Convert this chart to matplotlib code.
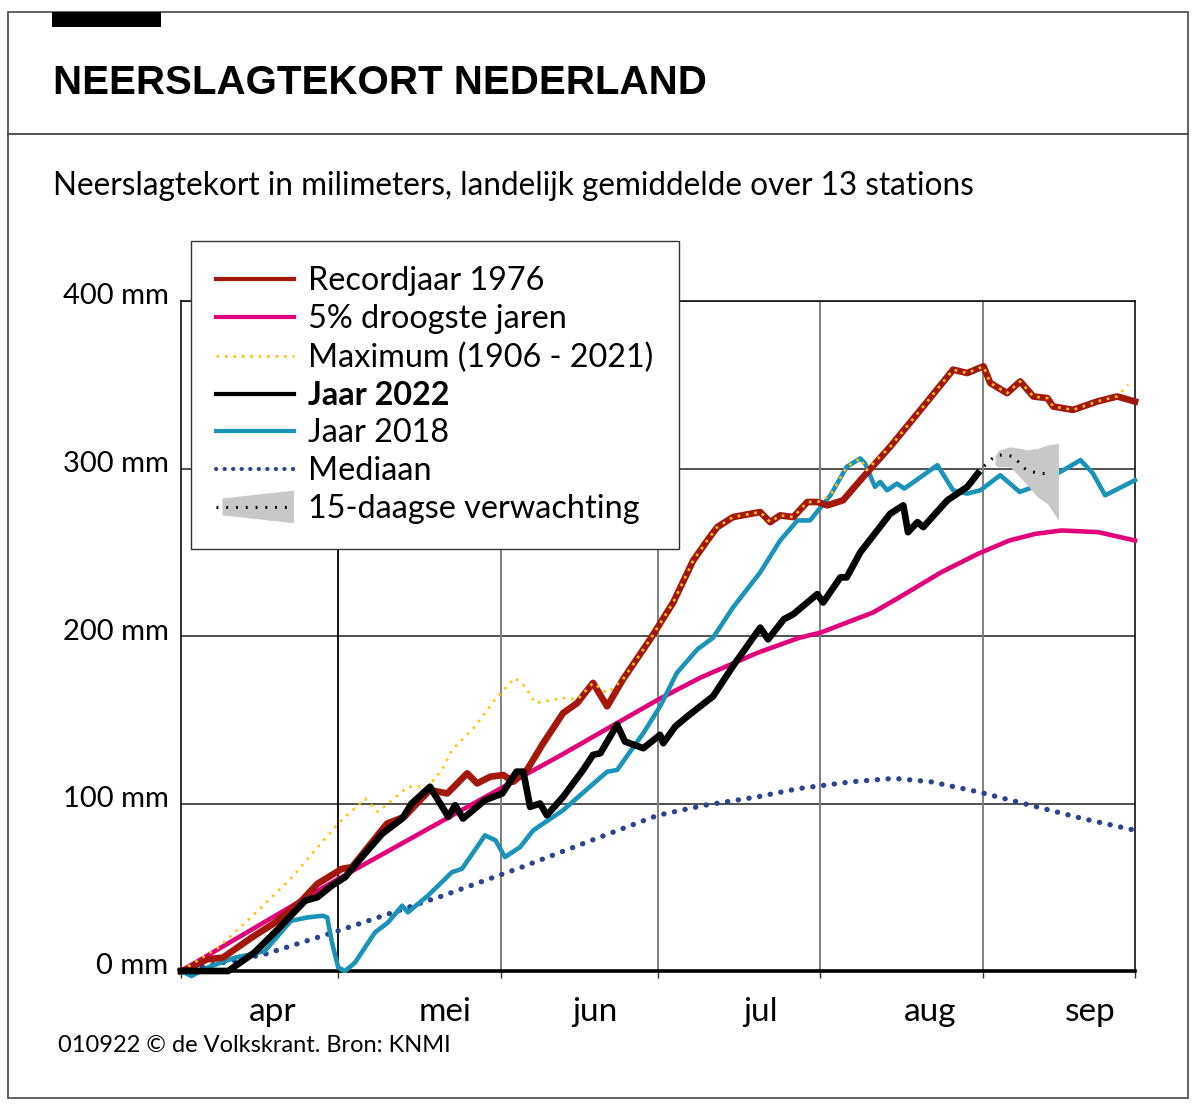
import matplotlib.pyplot as plt
from matplotlib.patches import Rectangle, Polygon
from matplotlib.lines import Line2D
from matplotlib.legend_handler import HandlerPatch, HandlerTuple
from matplotlib.transforms import ScaledTranslation

# days since 1 april, neerslagtekort in mm
rec_day = [0, 1, 5, 8, 13.5, 18, 23, 26, 30.7, 32.6, 39.3, 42.6, 45.6, 47.5, 50.8, 52.7, 54.6, 56.5, 59,
           61.5, 63.4, 66, 69.1, 72.9, 75.6, 78.6, 81.3, 84.3, 89.5, 93.9, 97.7, 100.4, 102.3, 105.3, 110.5,
           112.4, 114.3, 116.8, 119.5, 121.4, 123.3, 126.3, 129.6, 135.3, 141.6, 147.3, 150, 153.1, 154.4,
           157.6, 160.1, 162.6, 165.3, 166.4, 170.2, 174.8, 178.6, 182]
rec_mm = [0, 1, 7, 8, 20, 29, 42, 52, 61, 62, 88, 92, 102, 108, 106, 112, 118, 112, 116,
          117, 113, 120, 136, 154, 160, 172, 158, 174, 198, 220, 245, 257, 265, 271, 274,
          268, 272, 271, 280, 280, 278, 281, 293, 313, 337, 359, 357, 361, 351,
          345, 352, 343, 342, 337, 335, 340, 343, 340]

dry5_day = [0, 30, 65, 72, 91, 99, 110, 118, 122, 132, 137, 145, 152, 158, 163, 168, 175, 182]
dry5_mm = [0, 55, 116, 128, 162, 175, 190, 199, 202, 214, 223, 238, 249, 257, 261, 263, 262, 257]

max_day = [0, 7.1, 14.7, 21.2, 26.1, 30, 35.1, 37.6, 43.3, 47.1, 49.8, 51.7, 56.1, 59.9, 63.7, 65.6, 67.6,
           72.9, 75.6, 78.6, 81.3, 84.3, 89.5, 93.9, 97.7, 100.4, 102.3, 105.3, 110.5, 112.4, 114.3, 116.8,
           119.5, 121.4, 123.9, 127, 129.6, 130.8, 135.3, 141.6, 147.3, 150, 153.1, 154.4, 157.6, 160.1,
           162.6, 165.3, 166.4, 170.2, 174.8, 178.6, 180.7]
max_mm = [0, 14, 36, 56, 74, 88, 103, 95, 110, 110, 120, 132, 146, 162, 175, 170, 160,
          163, 162, 172, 166, 174, 198, 220, 245, 257, 265, 271, 274, 268, 272, 271,
          280, 280, 284, 301, 306, 299, 313, 337, 359, 357, 361, 351, 345, 352,
          343, 342, 337, 335, 340, 343, 350]

y2022_day = [0, 9, 14, 18.5, 23.7, 26, 28.8, 31.3, 34.5, 38.4, 42.2, 44, 47.5, 51, 52.3, 53.8, 58, 61.3,
             64, 65.3, 66.6, 68.5, 69.8, 72.9, 76.7, 78.6, 80, 83.2, 84.7, 88.2, 91.4, 92, 94.3, 96.6,
             101.5, 105.3, 110.5, 112, 115, 116.8, 121.4, 122.5, 125.8, 127, 129.6, 135.3, 137.8, 138.7,
             140.5, 141.6, 146.2, 150, 152]
y2022_mm = [0, 0, 11, 25, 42, 44, 51, 56, 68, 82, 91, 100, 110, 92, 99, 91, 102, 106,
            119, 119, 98, 100, 93, 104, 120, 129, 130, 147, 137, 133, 141, 136, 146, 152,
            164, 182, 205, 198, 210, 213, 225, 220, 235, 235, 250, 273, 278, 262,
            268, 265, 281, 289, 297]

y2018_day = [0, 2, 5, 10.3, 13.5, 16, 21, 24.2, 27, 27.9, 28.8, 30, 31.3, 33.2, 37, 39.5, 42.2, 43.3, 47.1,
             51.7, 53.6, 58, 60, 61.8, 64.7, 67.2, 72.9, 78, 81.3, 83.2, 88.2, 91.4, 94.6, 98.5, 101.5,
             105.3, 110.5, 114.3, 117.6, 120, 123.9, 127, 129.6, 130.5, 132.4, 133.4, 134.7, 136.6, 138,
             144.3, 147.3, 150, 152.5, 156.3, 160, 163.5, 167.2, 171.6, 174, 176.3, 182]
y2018_mm = [0, -3, 2, 8, 10, 12, 30, 32, 33, 32, 17, 2, 0, 5, 23, 29, 39, 35, 45,
            59, 61, 81, 78, 68, 74, 84, 96, 110, 119, 120, 142, 158, 178, 192, 199,
            217, 238, 257, 269, 269, 284, 301, 306, 303, 289, 292, 287, 291, 288,
            302, 287, 285, 287, 296, 286, 290, 297, 305, 297, 284, 293]

med_day = [0, 16, 30, 50, 65, 80, 91, 100, 110, 118, 128, 136, 143, 152, 162, 172, 182]
med_mm = [0, 10, 24, 45, 62, 80, 93, 99, 104, 109, 113, 115, 113, 107, 99, 91, 84]

# 15-daagse verwachting
fc_day = [152, 153.4, 154.8, 156, 157.6, 158.8, 161, 162.4, 164, 165.5]
fc_mm = [297, 302, 306, 308, 308, 307, 300, 298, 297, 297]
band_day = [155.3, 156, 158.2, 160, 161.5, 163.4, 165.3, 167.4]
band_hi = [308, 311, 313, 312, 311, 312, 314, 315]
band_lo = [302, 301, 301, 295, 290, 283, 279, 269]

month_starts = [0, 30, 61, 91, 122, 153, 182]
month_label_pos = [17.4, 50.4, 79, 110.5, 143, 173.5]
month_labels = ['apr', 'mei', 'jun', 'jul', 'aug', 'sep']
y_ticks = [0, 100, 200, 300, 400]

plt.rcParams['font.family'] = ['Lato', 'DejaVu Sans']

W, H = 1200, 1107
fig = plt.figure(figsize=(W / 100, H / 100), dpi=100)

# frame around the graphic
fig.add_artist(Rectangle((8 / W, 1 - 1098 / H), 1180 / W, 1086 / H, transform=fig.transFigure,
                         fill=False, ec='#555555', lw=1.3))
fig.add_artist(Line2D([8 / W, 1188 / W], [1 - 134 / H] * 2, transform=fig.transFigure, color='#444444', lw=1.3))
fig.add_artist(Rectangle((52 / W, 1 - 27 / H), 109 / W, 15 / H, transform=fig.transFigure, fc='black', ec='none'))

fig.text(53 / W, 1 - 83 / H, 'NEERSLAGTEKORT NEDERLAND', fontsize=29, fontweight='bold',
         family=['Liberation Sans', 'DejaVu Sans'], va='center', ha='left')
fig.text(53 / W, 1 - 186 / H, 'Neerslagtekort in milimeters, landelijk gemiddelde over 13 stations',
         fontsize=22.7, va='center', ha='left')
fig.text(58 / W, 1 - 1045 / H, '010922 \u00a9 de Volkskrant. Bron: KNMI', fontsize=17, va='center', ha='left')

ax = fig.add_axes([181 / W, 1 - 971 / H, 954 / W, 670 / H])
ax.set_xlim(0, 182)
ax.set_ylim(0, 400)

# grid
for y in y_ticks[1:]:
    ax.axhline(y, color='#222222', lw=1.1, zorder=1)
for i, d in enumerate(month_starts[1:-1]):
    ax.axvline(d, color='#111111' if i == 0 else '#808080', lw=1.4, zorder=1)

# series
ax.plot(med_day, med_mm, color='#2C4490', lw=3.8, linestyle=(0, (0.05, 2.0)), dash_capstyle='round',
        zorder=2, clip_on=False, label='Mediaan')
ax.plot(dry5_day, dry5_mm, color='#E2007A', lw=3.3, zorder=3, clip_on=False, label='5% droogste jaren')
ax.plot(y2018_day, y2018_mm, color='#1A93B8', lw=3.3, zorder=4, clip_on=False, label='Jaar 2018')
ax.plot(rec_day, rec_mm, color='#A3180B', lw=4.8, zorder=5, clip_on=False, label='Recordjaar 1976')
ax.plot(max_day, max_mm, color='#FFC414', lw=1.9, linestyle=(0, (1, 2.2)), zorder=6, clip_on=False,
        label='Maximum (1906 - 2021)')
ax.plot(y2022_day, y2022_mm, color='black', lw=4.8, zorder=7, clip_on=False, label='Jaar 2022')
ax.fill_between(band_day, band_lo, band_hi, color='#C8C8C8', lw=0, zorder=8)
ax.plot(fc_day, fc_mm, color='black', lw=2.2, linestyle=(0, (0.6, 2.6)), zorder=9)

# axes styling
for s in ['top', 'right', 'left']:
    ax.spines[s].set_color('#111111')
    ax.spines[s].set_linewidth(1.2)
ax.spines['bottom'].set_linewidth(2.6)
ax.set_xticks(month_starts)
ax.set_xticklabels([])
ax.tick_params(axis='x', which='major', length=5, width=1, direction='out', color='#333333')
ax.set_xticks(month_label_pos, minor=True)
ax.set_xticklabels(month_labels, minor=True, fontsize=24)
ax.tick_params(axis='x', which='minor', length=0, pad=19)
ax.set_yticks(y_ticks)
ax.set_yticklabels([f'{v} mm' for v in y_ticks], fontsize=21)
ax.tick_params(axis='y', length=0, pad=9)
# y labels sit a little above their gridline
for lab in ax.get_yticklabels():
    lab.set_transform(lab.get_transform() + ScaledTranslation(0, 0.07, fig.dpi_scale_trans))


# legend, with a trapezoid for the forecast band
def trapezoid(legend, orig_handle, xdescent, ydescent, width, height, fontsize):
    x0, x1 = -xdescent + 0.08 * width, -xdescent + width
    yc = -ydescent + height / 2
    return Polygon([[x0, yc - 0.37 * height], [x1, yc - 0.72 * height],
                    [x1, yc + 0.72 * height], [x0, yc + 0.37 * height]])


band_proxy = Polygon([[0, 0]], fc='#C8C8C8', ec='none')
fc_proxy = Line2D([], [], color='black', lw=2.2, linestyle=(0, (0.6, 2.6)))
h, l = ax.get_legend_handles_labels()
order = ['Recordjaar 1976', '5% droogste jaren', 'Maximum (1906 - 2021)', 'Jaar 2022', 'Jaar 2018', 'Mediaan']
handles = [h[l.index(name)] for name in order] + [(band_proxy, fc_proxy)]
labels = order + ['15-daagse verwachting']
leg = ax.legend(handles, labels, loc='upper left', bbox_to_anchor=(191 / W, 1 - 241 / H),
                bbox_transform=fig.transFigure, borderaxespad=0, fontsize=23.3, frameon=True,
                fancybox=False, framealpha=1, edgecolor='#333333', handlelength=2.4,
                handletextpad=0.45, borderpad=0.78, labelspacing=0.25,
                handler_map={Polygon: HandlerPatch(patch_func=trapezoid), tuple: HandlerTuple(ndivide=1)})
leg.get_frame().set_linewidth(1.0)
leg.set_zorder(20)
leg.get_texts()[3].set_fontweight('bold')
for line in leg.get_lines():
    line.set_linewidth(min(line.get_linewidth(), 3))

fig.savefig('out.png', dpi=100)
